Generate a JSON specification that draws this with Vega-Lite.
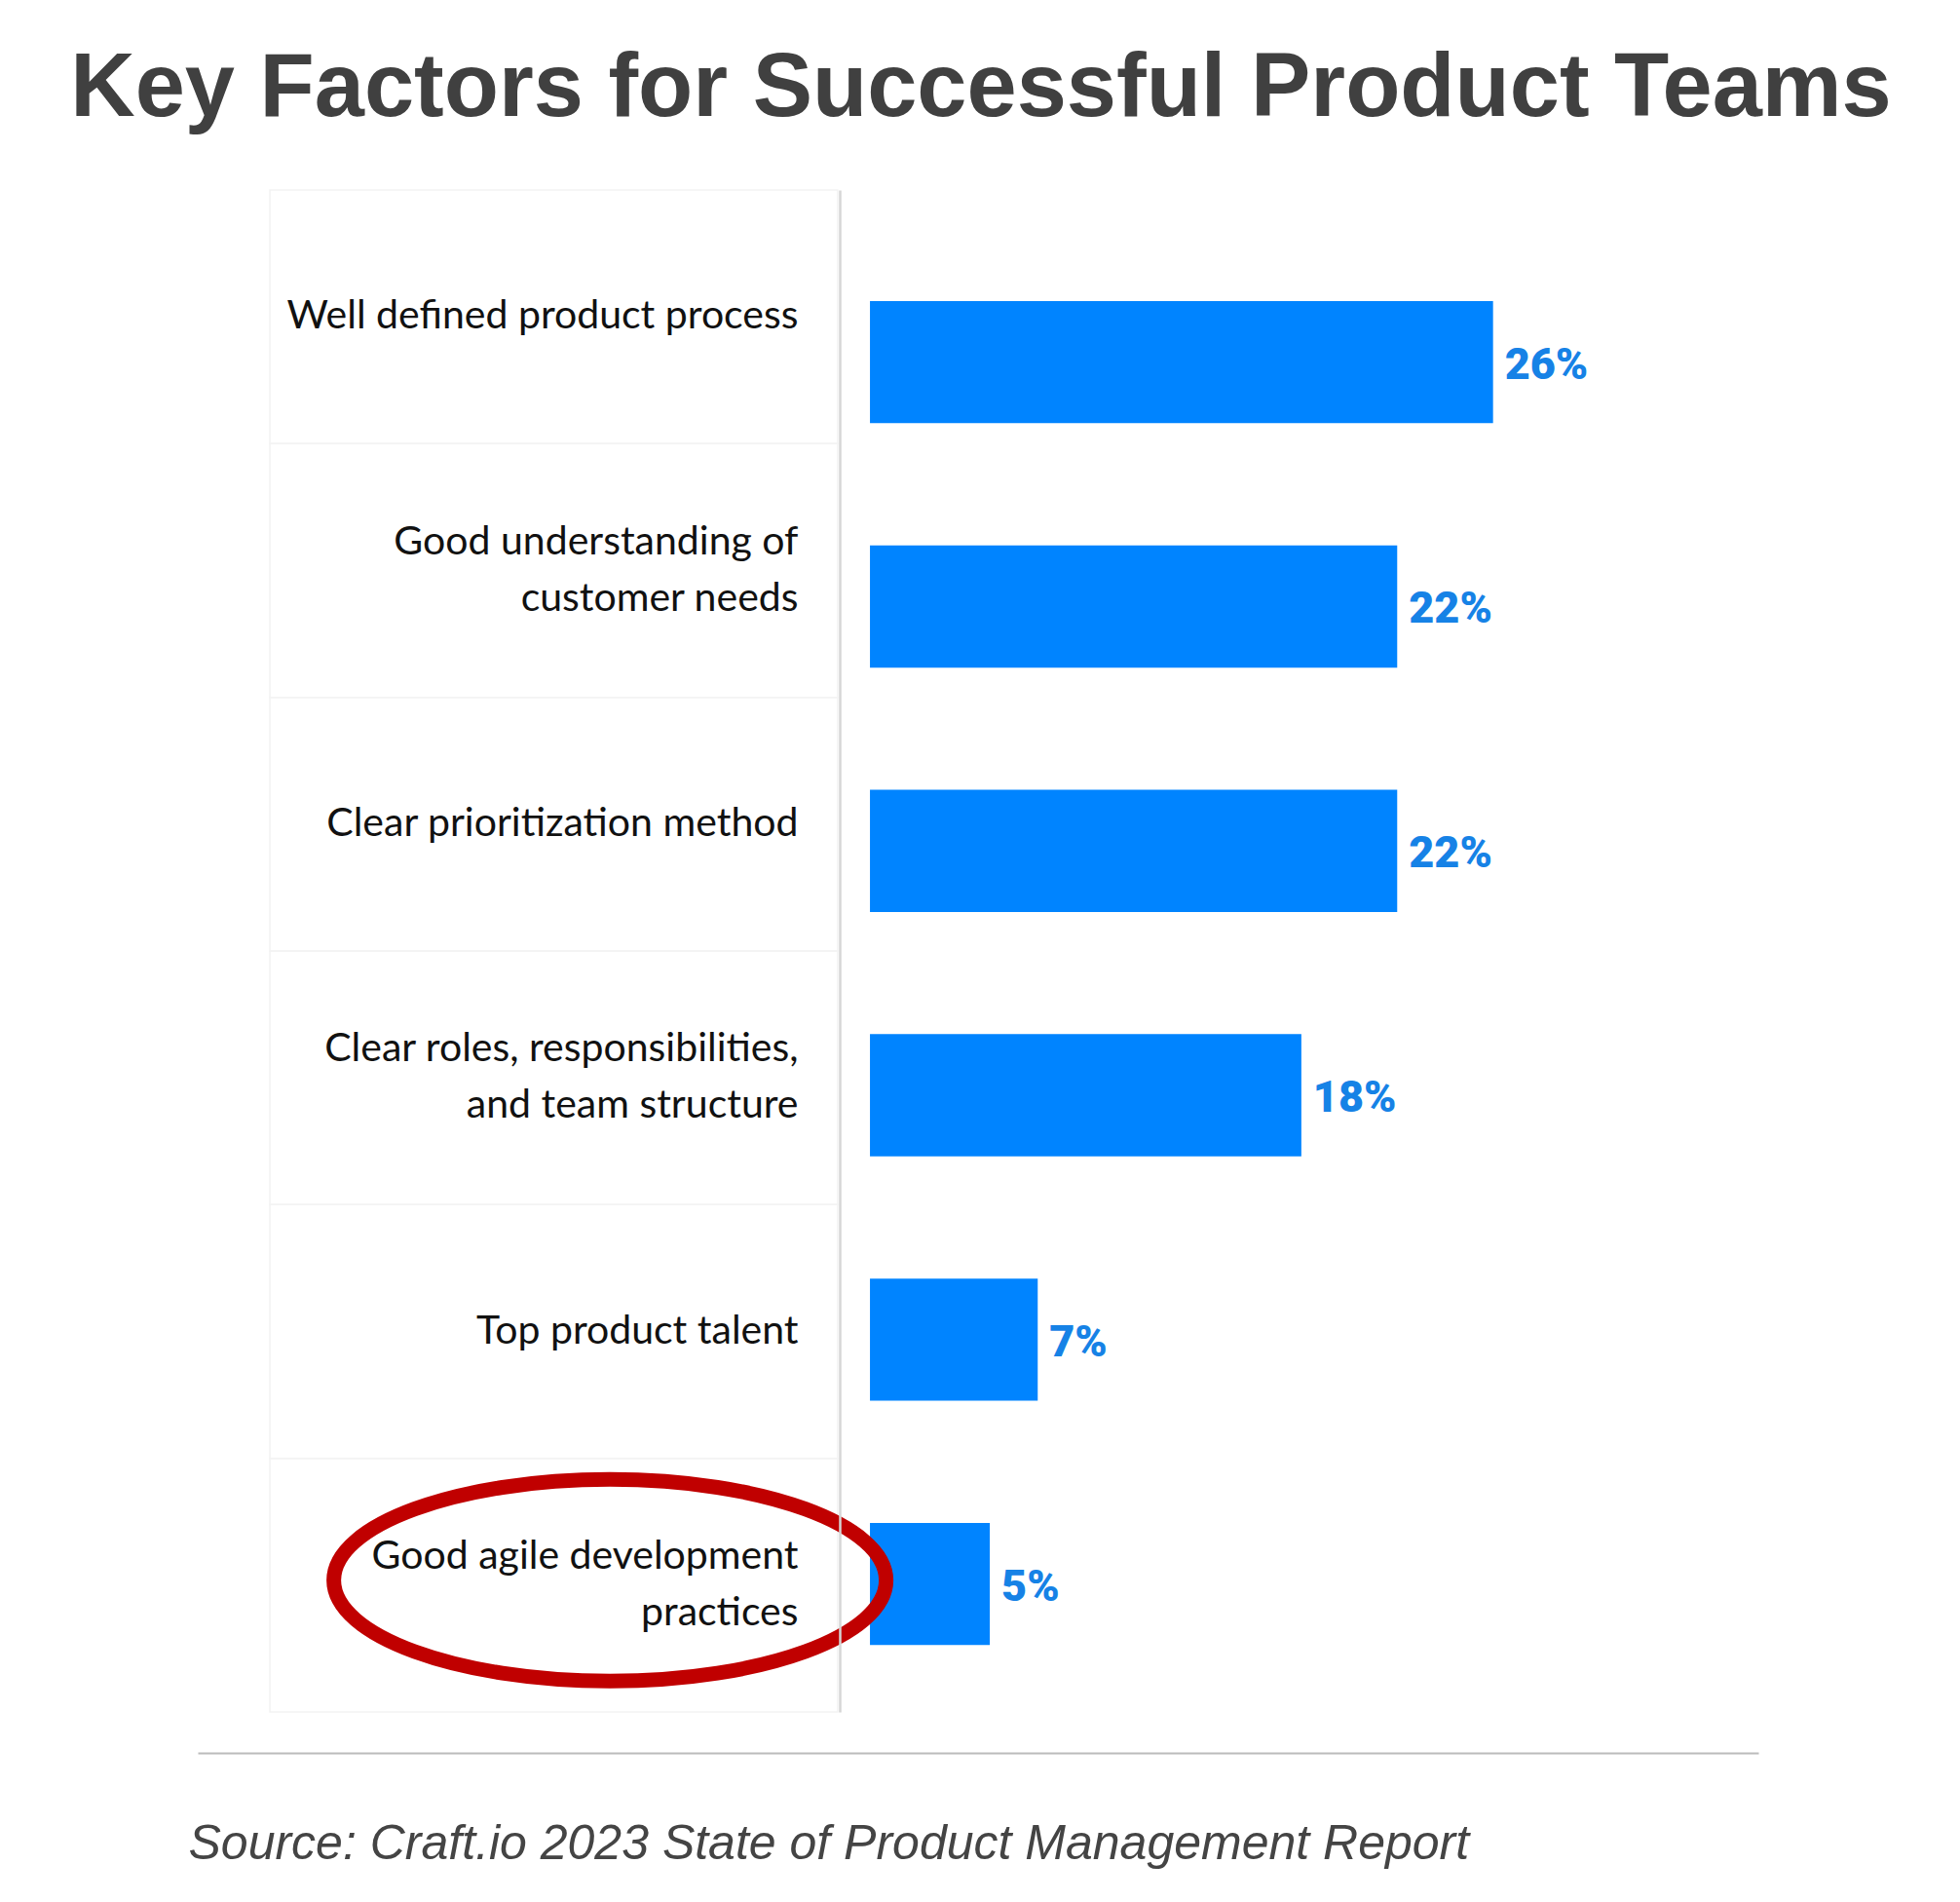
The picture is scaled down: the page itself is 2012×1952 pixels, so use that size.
{
  "$schema": "https://vega.github.io/schema/vega-lite/v6.json",
  "description": "Key factors for successful product teams",
  "width": 1602,
  "height": 1562,
  "autosize": {"type": "none"},
  "padding": {"left": 203, "top": 195, "right": 207, "bottom": 195},
  "background": "white",
  "title": {
    "text": "Key Factors for Successful Product Teams",
    "font": "Liberation Sans",
    "fontSize": 92,
    "fontWeight": "bold",
    "color": "#404040",
    "anchor": "middle",
    "frame": "group",
    "baseline": "alphabetic",
    "dx": 3,
    "offset": -17
  },
  "data": {
    "values": [
      {"factor": "Well defined product process", "share": 0.26},
      {"factor": "Good understanding of\ncustomer needs", "share": 0.22},
      {"factor": "Clear prioritization method", "share": 0.22},
      {"factor": "Clear roles, responsibilities,\nand team structure", "share": 0.18},
      {"factor": "Top product talent", "share": 0.07},
      {"factor": "Good agile development\npractices", "share": 0.05}
    ]
  },
  "layer": [
    {
      "layer": [
        {
          "mark": {"type": "bar", "color": "#0084ff"},
          "encoding": {
            "x": {
              "field": "share",
              "type": "quantitative",
              "scale": {"domain": [-0.2805, 0.3707], "nice": false},
              "axis": {
                "orient": "bottom",
                "offset": 42,
                "domainColor": "#bcbcbc",
                "domainWidth": 2.2,
                "ticks": false,
                "labels": false,
                "grid": false,
                "title": "Source: Craft.io 2023 State of Product Management Report",
                "titleFont": "Liberation Sans",
                "titleFontStyle": "italic",
                "titleFontWeight": "normal",
                "titleFontSize": 50,
                "titleColor": "#444444",
                "titleAnchor": "start",
                "titleAlign": "left",
                "titleBaseline": "alphabetic",
                "titleX": -10,
                "titleY": 108
              }
            },
            "y": {
              "field": "factor",
              "type": "nominal",
              "sort": null,
              "scale": {
                "domain": [
                  "Well defined product process",
                  "Good understanding of\ncustomer needs",
                  "Clear prioritization method",
                  "Clear roles, responsibilities,\nand team structure",
                  "Top product talent",
                  "Good agile development\npractices"
                ],
                "paddingInner": 0.5,
                "paddingOuter": 0.364,
                "align": 0.624
              },
              "axis": null
            }
          }
        },
        {
          "mark": {
            "type": "text",
            "align": "left",
            "baseline": "middle",
            "dx": 12,
            "dy": 3,
            "font": "Roboto",
            "fontWeight": 900,
            "fontSize": 45,
            "color": "#1682e6"
          },
          "encoding": {
            "x": {"field": "share", "type": "quantitative", "scale": {"domain": [-0.2805, 0.3707], "nice": false}},
            "y": {"field": "factor", "type": "nominal", "sort": null},
            "text": {"field": "share", "type": "quantitative", "format": ".0%"}
          }
        }
      ]
    },
    {
      "layer": [
        {
          "mark": {"type": "rect", "fill": "white", "fillOpacity": 0, "stroke": "#f3f3f3", "strokeWidth": 1.5},
          "encoding": {
            "x": {"datum": -0.2504, "type": "quantitative", "scale": {"domain": [-0.2805, 0.3707], "nice": false}},
            "x2": {"datum": -0.0135},
            "y": {
              "field": "factor",
              "type": "nominal",
              "sort": null,
              "scale": {
                "domain": [
                  "Well defined product process",
                  "Good understanding of\ncustomer needs",
                  "Clear prioritization method",
                  "Clear roles, responsibilities,\nand team structure",
                  "Top product talent",
                  "Good agile development\npractices"
                ],
                "paddingInner": 0,
                "paddingOuter": 0
              },
              "axis": {
                "orient": "left",
                "offset": -659,
                "domainColor": "#d6d6d6",
                "domainWidth": 2.5,
                "ticks": false,
                "grid": false,
                "title": null,
                "labelExpr": "split(datum.value, '\\n')",
                "labelFont": "Lato",
                "labelFontSize": 41,
                "labelColor": "#111111",
                "labelPadding": 43,
                "labelLimit": 700,
                "labelLineHeight": 58,
                "labelAlign": "right",
                "labelBaseline": "middle",
                "labelOffset": {
                  "condition": {"test": "indexof(datum.value, '\\n') >= 0", "value": -29},
                  "value": 0
                }
              }
            }
          }
        },
        {
          "transform": [{"filter": {"field": "share", "equal": 0.05}}],
          "mark": {
            "type": "point",
            "shape": "M-1,0A1,0.365,0,1,0,1,0A1,0.365,0,1,0,-1,0Z",
            "size": 321489,
            "filled": false,
            "stroke": "#c00000",
            "strokeWidth": 15,
            "opacity": 1,
            "yOffset": -5
          },
          "encoding": {
            "x": {"datum": -0.1085, "type": "quantitative", "scale": {"domain": [-0.2805, 0.3707], "nice": false}},
            "y": {"field": "factor", "type": "nominal", "sort": null}
          }
        }
      ]
    }
  ],
  "resolve": {"scale": {"y": "independent"}, "axis": {"y": "independent"}},
  "config": {"view": {"stroke": null}}
}
